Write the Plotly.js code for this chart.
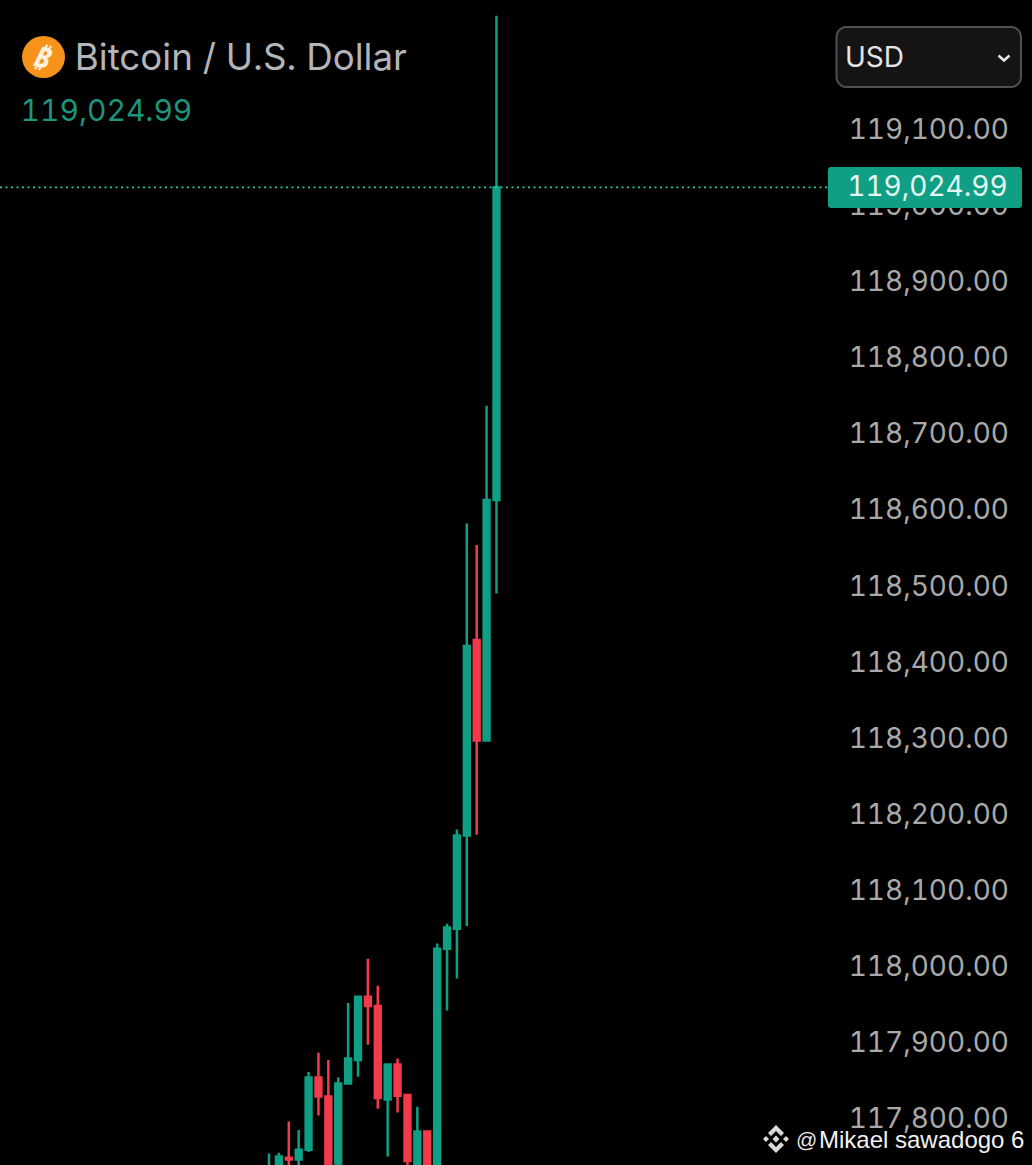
<!DOCTYPE html>
<html>
<head>
<meta charset="utf-8">
<script src="https://cdn.plot.ly/plotly-3.0.1.min.js"></script>
<style>html,body{margin:0;padding:0;background:#000;overflow:hidden}#chart{width:1032px;height:1165px}
#chart text{font-variant-numeric:tabular-nums;font-feature-settings:"tnum" 1}</style>
</head>
<body>
<div id="chart"></div>
<script>
const candleIndex = [0,1,2,3,4,5,6,7,8,9,10,11,12,13,14,15,16,17,18,19,20,21,22,23];
const openPrices  = [117712,117715,117749.5,117747,117760,117855,117830,117742,117847,117878,117961,117949,117826,117872,117832,117730,117784,117740,118024,118050.5,118173,118430,118298,118614];
const highPrices  = [117755,117756,117797,117786,117862,117887.5,117878,117855,117953,117961,118011,117975.5,117873,117880,117833,117816.5,117784,118031,118057,118181,118583,118555,118738,119250.5];
const lowPrices   = [117700,117705,117715,117722,117757,117805,117710,117739,117847,117856,117898,117814,117751,117809,117735,117720,117715,117730,117943,117985,118054,118174,118298,118491];
const closePrices = [117735,117751,117747,117760,117855,117830,117720,117847,117880,117961,117949,117828,117872,117831,117745,117784,117725,118024,118052,118173,118422,118298,118614,119024.99];
const tickValues  = [119100,119000,118900,118800,118700,118600,118500,118400,118300,118200,118100,118000,117900,117800];
const tickLabels  = ["119,100.00","119,000.00","118,900.00","118,800.00","118,700.00","118,600.00","118,500.00","118,400.00","118,300.00","118,200.00","118,100.00","118,000.00","117,900.00","117,800.00"];
const lastPrice = 119024.99, lastLabel = "119,024.99";
const pairName = "Bitcoin / U.S. Dollar", currency = "USD", credit = "Mikael sawadogo 6";

const W = 1032, H = 1165, GREEN = "#0f9f84", RED = "#f23a4c";
const UI_FONT = "Inter, Roboto, sans-serif";
const fx = x => x / W, fy = y => 1 - y / H;
const P = pts => pts.map((p, i) => (i ? "L" : "M") + fx(p[0]) + "," + fy(p[1])).join(" ");
const poly = pts => P(pts) + " Z";
function roundRect(x0, y0, x1, y1, r) {
  const a = [];
  const corners = [[x1 - r, y0 + r, -90], [x1 - r, y1 - r, 0], [x0 + r, y1 - r, 90], [x0 + r, y0 + r, 180]];
  corners.forEach(c => { for (let k = 0; k <= 6; k++) { const t = (c[2] + k * 15) * Math.PI / 180; a.push([c[0] + r * Math.cos(t), c[1] + r * Math.sin(t)]); } });
  return poly(a);
}
const paperShape = o => Object.assign({ type: "path", xref: "paper", yref: "paper", layer: "above", line: { width: 0 } }, o);
const cx = 776, cy = 1139;
const binance = [
  poly([[cx-8,cy-6],[cx,cy-14],[cx+8,cy-6],[cx+5,cy-3],[cx,cy-8],[cx-5,cy-3]]),
  poly([[cx-8,cy+6],[cx,cy+14],[cx+8,cy+6],[cx+5,cy+3],[cx,cy+8],[cx-5,cy+3]]),
  poly([[cx,cy-3.5],[cx+3.5,cy],[cx,cy+3.5],[cx-3.5,cy]]),
  poly([[cx-10,cy-3],[cx-7,cy],[cx-10,cy+3],[cx-13,cy]]),
  poly([[cx+10,cy-3],[cx+13,cy],[cx+10,cy+3],[cx+7,cy]])
].map(d => paperShape({ path: d, fillcolor: "#d9d9d9" }));

const trace = {
  type: "candlestick",
  x: candleIndex, open: openPrices, high: highPrices, low: lowPrices, close: closePrices,
  whiskerwidth: 0,
  increasing: { line: { color: GREEN, width: 2.5 }, fillcolor: GREEN },
  decreasing: { line: { color: RED, width: 2.5 }, fillcolor: RED },
  hoverinfo: "skip", showlegend: false
};

const layout = {
  width: W, height: H,
  margin: { l: 0, r: 0, t: 0, b: 0 },
  paper_bgcolor: "#000", plot_bgcolor: "#000",
  showlegend: false,
  boxgap: 0.16,
  xaxis: { range: [-27.2, 77.15], visible: false, rangeslider: { visible: false }, fixedrange: true },
  yaxis: {
    range: [117739.9, 119271.2], side: "right", ticklabelposition: "inside", ticklabelstandoff: 20, ticklabelshift: -1,
    tickmode: "array", tickvals: tickValues, ticktext: tickLabels,
    tickfont: { family: UI_FONT, size: 28, color: "#a9a9a9" },
    showgrid: false, zeroline: false, showline: false, ticks: "", fixedrange: true
  },
  shapes: [
    { type: "line", xref: "paper", yref: "y", x0: 0, x1: fx(828), y0: lastPrice, y1: lastPrice, layer: "above",
      line: { color: "#35c0a4", width: 1.8, dash: "2px,3.5px" } },
    paperShape({ path: roundRect(828, 167, 1022, 208, 3), fillcolor: "#0f9f84" }),
    paperShape({ path: roundRect(836.5, 27, 1021, 87, 10), fillcolor: "#141414", line: { color: "#4f5052", width: 2 } }),
    paperShape({ path: P([[998.5,55.5],[1004,60.5],[1009.5,55.5]]), fillcolor: "rgba(0,0,0,0)", line: { color: "#e6e6e6", width: 2.5 } }),
    { type: "circle", xref: "paper", yref: "paper", x0: fx(22), x1: fx(65), y0: fy(36), y1: fy(78), layer: "above",
      fillcolor: "#f7931a", line: { width: 0 } }
  ].concat(binance),
  annotations: [
    { text: "<b><i>₿</i></b>", xref: "paper", yref: "paper", x: fx(43.5), y: fy(57), xanchor: "center", yanchor: "middle",
      showarrow: false, textangle: 14, font: { family: "'Noto Sans', 'DejaVu Sans', sans-serif", size: 29, color: "#fff3e0" } },
    { text: pairName, xref: "paper", yref: "paper", x: fx(72), y: fy(57), xanchor: "left", yanchor: "middle",
      showarrow: false, font: { family: UI_FONT, size: 36.7, color: "#b4b5b8" } },
    { text: lastLabel, xref: "paper", yref: "paper", x: fx(29), y: fy(110.5), xanchor: "left", yanchor: "middle",
      showarrow: false, font: { family: UI_FONT, size: 30, color: "#1f947c" } },
    { text: currency, xref: "paper", yref: "paper", x: fx(843), y: fy(56.5), xanchor: "left", yanchor: "middle",
      showarrow: false, font: { family: UI_FONT, size: 28, color: "#e4e4e4" } },
    { text: lastLabel, xref: "paper", yref: "paper", x: fx(1000), y: fy(186), xanchor: "right", yanchor: "middle",
      showarrow: false, font: { family: UI_FONT, size: 28, color: "#e6f7f3" } },
    { text: "@", xref: "paper", yref: "paper", x: fx(794), y: fy(1139), xanchor: "left", yanchor: "middle",
      showarrow: false, font: { family: "'Liberation Sans', Arial, sans-serif", size: 21, color: "#e8e8e8" } },
    { text: credit, xref: "paper", yref: "paper", x: fx(1026), y: fy(1139), xanchor: "right", yanchor: "middle",
      showarrow: false, font: { family: "'Liberation Sans', Arial, sans-serif", size: 24, color: "#f2f2f2" } }
  ]
};
Plotly.newPlot("chart", [trace], layout, { displayModeBar: false, staticPlot: true });
</script>
</body>
</html>
